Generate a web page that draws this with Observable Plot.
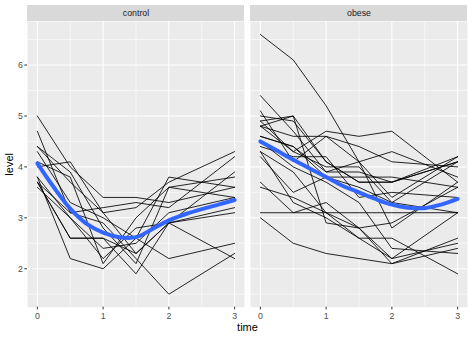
<!DOCTYPE html>
<html>
<head>
<meta charset="utf-8">
<script src="https://cdn.jsdelivr.net/npm/d3@7"></script>
<script src="https://cdn.jsdelivr.net/npm/@observablehq/plot@0.6"></script>
<style>
  html, body { margin: 0; padding: 0; background: white; }
</style>
</head>
<body>
<div id="chart"></div>
<script>
// ---- data ----
const times = [0, 0.5, 1, 1.5, 2, 3];
const groups = ["control", "obese"];

const controlLevels = [
  [4.3, 3.3, 3.0, 2.6, 2.2, 2.5],
  [3.7, 2.6, 2.6, 1.9, 2.9, 3.2],
  [4.0, 4.1, 3.1, 2.3, 2.9, 3.1],
  [3.6, 3.0, 2.2, 2.8, 2.9, 3.9],
  [4.1, 3.8, 2.1, 3.0, 3.6, 3.4],
  [3.8, 2.2, 2.0, 2.6, 3.8, 3.6],
  [3.8, 3.0, 2.4, 2.5, 3.1, 3.4],
  [4.4, 3.9, 2.8, 2.1, 3.6, 3.8],
  [5.0, 4.0, 3.4, 3.4, 3.3, 3.6],
  [3.7, 3.1, 2.9, 2.2, 1.5, 2.3],
  [3.7, 2.6, 2.6, 2.3, 2.9, 2.2],
  [4.4, 3.7, 3.1, 3.2, 3.7, 4.3],
  [4.7, 3.1, 3.2, 3.3, 3.2, 4.2]
];

const obeseLevels = [
  [4.3, 3.3, 3.0, 2.6, 2.2, 2.5],
  [5.0, 4.9, 4.1, 3.7, 3.7, 4.1],
  [4.6, 4.4, 3.9, 3.9, 3.7, 4.2],
  [4.3, 3.9, 3.1, 3.1, 3.1, 3.1],
  [3.1, 3.1, 3.1, 2.6, 2.6, 1.9],
  [4.8, 5.0, 2.9, 2.8, 2.2, 3.1],
  [3.7, 3.1, 3.3, 2.8, 2.9, 3.6],
  [5.4, 4.7, 3.9, 4.1, 2.8, 3.7],
  [3.0, 2.5, 2.3, 2.2, 2.1, 2.6],
  [4.9, 5.0, 4.1, 3.7, 3.7, 4.1],
  [4.8, 4.3, 4.7, 4.6, 4.7, 3.7],
  [4.4, 4.2, 4.2, 3.4, 3.5, 3.4],
  [4.9, 4.3, 4.0, 4.0, 3.3, 4.1],
  [5.1, 4.1, 4.6, 4.1, 3.4, 4.2],
  [4.8, 4.6, 4.6, 4.4, 4.1, 4.0],
  [4.2, 3.5, 3.8, 3.6, 3.3, 3.1],
  [6.6, 6.1, 5.2, 4.1, 4.3, 3.8],
  [3.6, 3.4, 3.1, 2.8, 2.1, 2.4],
  [4.5, 4.0, 3.7, 3.3, 2.4, 2.3],
  [4.6, 4.4, 3.8, 3.8, 3.8, 3.6]
];

// smoothed trend
const smoothTimes   = [0, 0.25, 0.5, 0.75, 1.0, 1.25, 1.5, 1.75, 2.0, 2.25, 2.5, 2.75, 3.0];
const controlSmooth = [4.07, 3.60, 3.18, 2.88, 2.71, 2.62, 2.62, 2.78, 2.95, 3.07, 3.17, 3.26, 3.35];
const obeseSmooth   = [4.50, 4.32, 4.14, 3.97, 3.80, 3.63, 3.50, 3.37, 3.26, 3.20, 3.19, 3.26, 3.37];

const xTicks = [0, 1, 2, 3];
const xMinor = [0.5, 1.5, 2.5];
const yTicks = [2, 3, 4, 5, 6];
const yMinor = [1.5, 2.5, 3.5, 4.5, 5.5, 6.5];

// ---- tables ----
const rows = [];
[controlLevels, obeseLevels].forEach((levels, g) => {
  levels.forEach((series, i) => {
    series.forEach((v, j) => rows.push({group: groups[g], id: groups[g] + i, time: times[j], level: v}));
  });
});
const smoothRows = [];
[controlSmooth, obeseSmooth].forEach((series, g) => {
  series.forEach((v, j) => smoothRows.push({group: groups[g], time: smoothTimes[j], level: v}));
});

// ---- layout ----
const W = 474, H = 338;
const mL = 26.7, mR = 6, mT = 21, mB = 31.3;
const xDom = [-0.15, 3.15];
const yDom = [1.245, 6.855];
const pxPerY = (H - mT - mB) / (yDom[1] - yDom[0]);
const stripTop = yDom[1] + 16 / pxPerY;
const fmt = d => String(d);

const plot = Plot.plot({
  width: W,
  height: H,
  marginLeft: mL,
  marginRight: mR,
  marginTop: mT,
  marginBottom: mB,
  style: {fontFamily: "'Liberation Sans', Arial, sans-serif", fontSize: "8.8px", background: "white", color: "#4D4D4D"},
  fx: {domain: groups, padding: 0.0268, axis: null, label: null},
  x: {domain: xDom},
  y: {domain: yDom},
  marks: [
    Plot.frame({fill: "#EBEBEB", stroke: "none"}),
    Plot.gridY(yMinor, {stroke: "white", strokeOpacity: 1, strokeWidth: 0.55}),
    Plot.gridX(xMinor, {stroke: "white", strokeOpacity: 1, strokeWidth: 0.55}),
    Plot.gridY(yTicks, {stroke: "white", strokeOpacity: 1, strokeWidth: 1.1}),
    Plot.gridX(xTicks, {stroke: "white", strokeOpacity: 1, strokeWidth: 1.1}),
    Plot.rect(groups, {fx: d => d, x1: xDom[0], x2: xDom[1], y1: yDom[1], y2: stripTop, fill: "#D9D9D9", clip: false}),
    Plot.text(groups, {fx: d => d, text: d => d, frameAnchor: "top", lineAnchor: "middle", textAnchor: "middle", dy: -8, fill: "#1A1A1A", fontSize: 8.8}),
    Plot.line(rows, {fx: "group", x: "time", y: "level", z: "id", stroke: "black", strokeWidth: 0.85}),
    Plot.line(smoothRows, {fx: "group", x: "time", y: "level", stroke: "#3366FF", strokeWidth: 4, curve: "catmull-rom"}),
    Plot.axisX(xTicks, {tickSize: 2.7, tickPadding: 2.5, tickFormat: fmt, label: null, color: "#4D4D4D", stroke: "#333333", fontSize: 8.8}),
    Plot.axisY(yTicks, {tickSize: 2.7, tickPadding: 2, tickFormat: fmt, label: null, color: "#4D4D4D", stroke: "#333333", fontSize: 8.8}),
    Plot.text(["level"], {fx: ["control"], frameAnchor: "left", rotate: -90, dx: -18.5, textAnchor: "middle", lineAnchor: "middle", fontSize: 11, fill: "black"}),
    Plot.text(["time"], {fx: ["control"], frameAnchor: "bottom-right", dx: 3, dy: 20.5, textAnchor: "middle", lineAnchor: "middle", fontSize: 11, fill: "black"})
  ]
});

document.getElementById("chart").appendChild(plot);
</script>
</body>
</html>
